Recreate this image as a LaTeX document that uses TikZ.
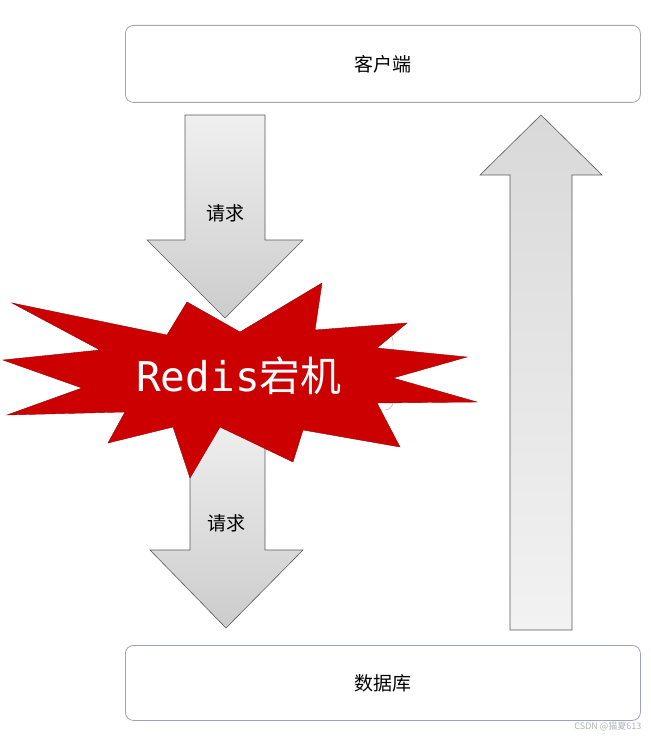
\documentclass[tikz,border=0pt]{standalone}
\usepackage{fontspec}
\setmainfont{Noto Sans CJK SC}
\newfontfamily\monofnt{DejaVu Sans Mono}
\begin{document}
\begin{tikzpicture}[x=1pt,y=-1pt,
 box/.style={draw=#1,rounded corners=8pt,line width=0.8pt,fill=white},
 arr/.style={draw=gray!70!black,line width=0.6pt,top color=gray!12,bottom color=gray!40},
 lbl/.style={font=\fontsize{19}{21}\selectfont}]
\useasboundingbox (0,0) rectangle (650,738);
\node[box=gray!70,minimum width=515pt,minimum height=77pt,anchor=north west,lbl] (client) at (125,25) {客户端};
\node[box=blue!25!gray!60,minimum width=515pt,minimum height=75pt,anchor=north west,lbl] (db) at (125,645) {数据库};
\draw[arr] (185,115) -- (265,115) -- (265,240) -- (303,240) -- (225,318) -- (147,240) -- (185,240) -- cycle;
\node[lbl] (req1) at (225,213) {请求};
\draw[draw=gray!70,rounded corners=8pt,fill=white] (95,333) rectangle (393,410);
\draw[arr] (190,415) -- (265,415) -- (265,550) -- (303,550) -- (226,628) -- (150,550) -- (190,550) -- cycle;
\node[lbl] (req2) at (226,523) {请求};
\draw[arr,top color=gray!30,bottom color=gray!10] (510,630) -- (510,175) -- (480,175) -- (541,115) -- (602,175) -- (572,175) -- (572,630) -- cycle;
\draw[fill=red!80!black,draw=red!60!black] (12,303) -- (100,350) -- (3,360) -- (82,388) -- (7,415) -- (125,412) -- (108,443) -- (173,427) -- (190,478) -- (220,427) -- (293,462) -- (303,430) -- (400,447) -- (377,403) -- (477,402) -- (393,378) -- (467,357) -- (377,348) -- (407,323) -- (315,330) -- (322,283) -- (240,332) -- (187,302) -- (167,335) -- cycle;
\node[text=white,font=\fontsize{41}{43}\selectfont] (redis) at (239,376) {{\monofnt Redis}宕机};
\node[text=gray!60,font=\fontsize{9}{10}\selectfont,anchor=south east] (wm) at (645,735) {CSDN @猫夏613};
\end{tikzpicture}
\end{document}
